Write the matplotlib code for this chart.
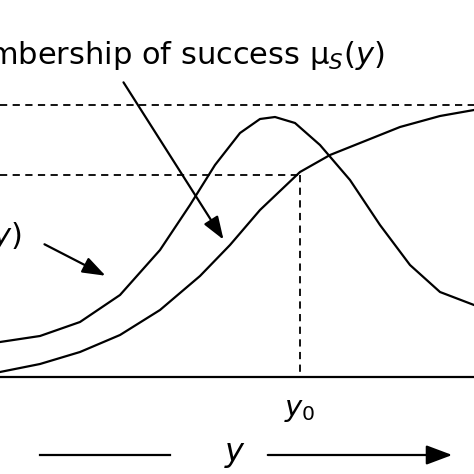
import matplotlib.pyplot as plt
import numpy as np

# curve points (pixel coords, y downward)
sig_x = [0, 40, 80, 120, 160, 200, 230, 260, 300, 330, 360, 400, 440, 474]
sig_y = [372, 364, 352, 335, 310, 276, 245, 210, 172, 155, 143, 127, 116, 110]
bell_x = [0, 40, 80, 120, 160, 190, 215, 240, 260, 275, 295, 320, 350, 380, 410, 440, 474]
bell_y = [342, 336, 322, 295, 250, 205, 165, 133, 119, 117, 123, 145, 180, 225, 265, 292, 305]

plt.rcParams['font.family'] = ['DejaVu Sans']
fig = plt.figure(figsize=(4.74, 4.74), dpi=100)
ax = fig.add_axes([0, 0, 1, 1])
ax.set_xlim(0, 474)
ax.set_ylim(474, 0)
ax.axis('off')

lw = 1.6
ax.plot(sig_x, sig_y, color='black', lw=lw)
ax.plot(bell_x, bell_y, color='black', lw=lw)
ax.plot([0, 474], [377, 377], color='black', lw=lw)
ax.plot([0, 474], [105, 105], color='black', lw=1.3, ls=(0, (4, 3)))
ax.plot([0, 300], [175, 175], color='black', lw=1.3, ls=(0, (4, 3)))
ax.plot([300, 300], [175, 377], color='black', lw=1.3, ls=(0, (4, 3)))

ax.text(300, 410, r'$y_0$', fontsize=21, ha='center', va='center')
ax.text(235, 455, r'$y$', fontsize=23, ha='center', va='center')
ax.plot([40, 170], [455, 455], color='black', lw=lw)
ax.annotate('', xy=(455, 455), xytext=(265, 455),
            arrowprops=dict(arrowstyle='-|>,head_length=1.6,head_width=0.6', color='black', lw=lw))

ax.text(-12, 55, r'mbership of success $\mathrm{\mu}_S(y)$', fontsize=22, ha='left', va='center')
ax.annotate('', xy=(225, 242), xytext=(122, 80),
            arrowprops=dict(arrowstyle='-|>,head_length=1.4,head_width=0.5', color='black', lw=lw))

ax.text(-8, 236, r'$y)$', fontsize=22, ha='left', va='center')
ax.annotate('', xy=(108, 277), xytext=(42, 243),
            arrowprops=dict(arrowstyle='-|>,head_length=1.4,head_width=0.5', color='black', lw=lw))

fig.savefig('out.png', dpi=100)
